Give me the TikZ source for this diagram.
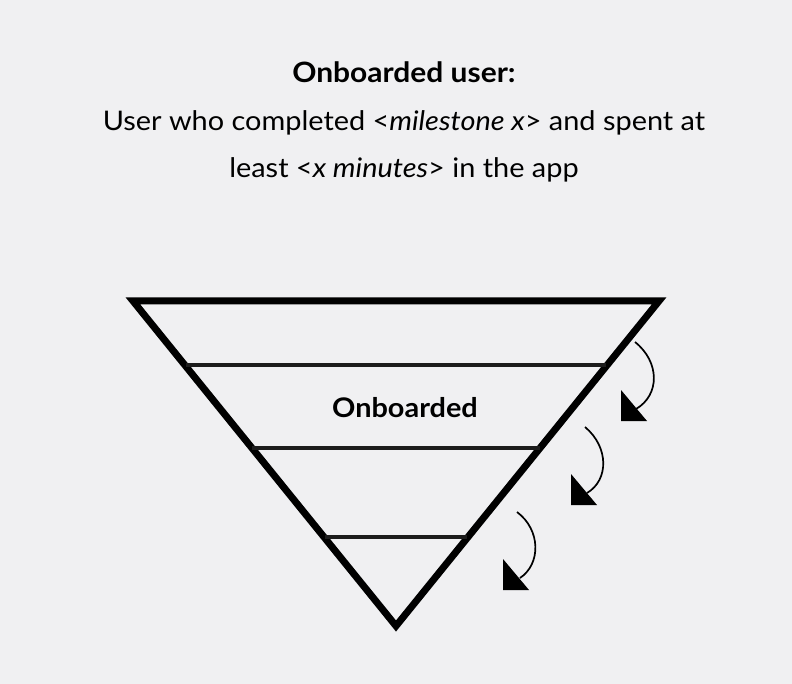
\documentclass[tikz,border=0pt]{standalone}
\usepackage{fontspec}
\setmainfont{Lato}[FakeStretch=1.07]
\newfontfamily\headfont{Lato Bold}[FakeStretch=1.09]
\definecolor{bg}{RGB}{240,240,242}
\definecolor{ink}{RGB}{0,0,0}
\definecolor{bar}{RGB}{28,28,28}
\begin{document}
\begin{tikzpicture}[x=1pt,y=-1pt,
  txt/.style={inner sep=0pt,anchor=base,text=ink},
  funnel/.style={draw=ink,line width=7pt,line join=miter},
  level/.style={draw=bar,line width=4.5pt},
  flow/.style={draw=ink,line width=1.7pt},
  head/.style={fill=ink}]
\fill[bg] (0,0) rectangle (792,684);
\useasboundingbox (0,0) rectangle (792,684);
% texts
\node[txt,font=\bfseries\fontsize{28}{32}\selectfont] (title) at (404,83) {Onboarded user:};
\node[txt,font=\fontsize{27}{32}\selectfont] (l2) at (404,131) {User who completed <\textit{milestone x}> and spent at};
\node[txt,font=\fontsize{27}{32}\selectfont] (l3) at (404,178) {least <\textit{x minutes}> in the app};
% funnel
\coordinate (tl) at (133,301);
\coordinate (tr) at (659,301);
\coordinate (ap) at (396,626);
\draw[funnel] (tl) -- (tr) -- (ap) -- cycle;
\coordinate (a1) at (186,365); \coordinate (b1) at (606,365);
\coordinate (a2) at (252,448); \coordinate (b2) at (540,448);
\coordinate (a3) at (325,537); \coordinate (b3) at (467,537);
\draw[level] (a1) -- (b1);
\draw[level] (a2) -- (b2);
\draw[level] (a3) -- (b3);
\node[txt,font=\bfseries\fontsize{27}{32}\selectfont] (onb) at (405,417) {Onboarded};
% arrows
\coordinate (s1) at (635,342); \coordinate (e1) at (636,409);
\draw[flow] (s1) .. controls (660,362) and (660,395) .. (e1);
\fill[head] (621,390) -- (621,421) -- (647,421) -- cycle;
\coordinate (s2) at (585,427); \coordinate (e2) at (587,493);
\draw[flow] (s2) .. controls (609,447) and (609,480) .. (e2);
\fill[head] (571,474) -- (571,505) -- (597,505) -- cycle;
\coordinate (s3) at (517,512); \coordinate (e3) at (520,578);
\draw[flow] (s3) .. controls (541,530) and (541,564) .. (e3);
\fill[head] (503,559) -- (503,590) -- (529,590) -- cycle;
\end{tikzpicture}
\end{document}
